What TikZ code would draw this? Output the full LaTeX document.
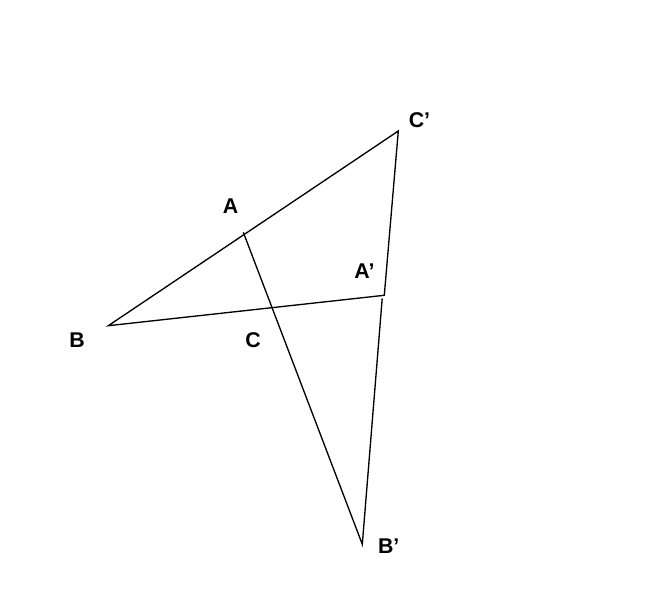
\documentclass[tikz,border=0pt]{standalone}
\usepackage{fontspec}
\setmainfont{Liberation Sans}
\begin{document}
\begin{tikzpicture}[x=0.75pt,y=-0.75pt,
  seg/.style={line width=1pt,black},
  lbl/.style={font=\fontsize{16}{16}\selectfont\bfseries,inner sep=0pt,text height=11.5pt,text depth=0pt}]
\useasboundingbox[fill=white] (0,0) rectangle (657,606);
\coordinate (B) at (108.3,325.7);
\coordinate (Cp) at (398.3,131);
\coordinate (Ap) at (384.3,295.3);
\coordinate (Ap2) at (382.2,298.5);
\coordinate (A) at (243.3,232.3);
\coordinate (Bp) at (362.3,544.3);
\draw[seg] (B) -- (Cp) -- (Ap) -- cycle;
\draw[seg] (A) -- (Bp) -- (Ap2);
\node[lbl] (lA) at (230.7,206) {A};
\node[lbl] (lCp) at (419.5,120) {C’};
\node[lbl] (lAp) at (364.5,271) {A’};
\node[lbl] (lB) at (77,340) {B};
\node[lbl] (lC) at (253,340) {C};
\node[lbl] (lBp) at (388.7,545.5) {B’};
\end{tikzpicture}
\end{document}
